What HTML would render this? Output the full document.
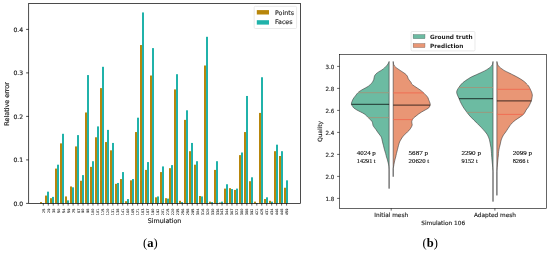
<!DOCTYPE html>
<html><head><meta charset="utf-8"><title>Figure</title>
<style>html,body{margin:0;padding:0;background:#fff;width:550px;height:253px;overflow:hidden}svg{display:block}</style>
</head><body>
<svg width="550" height="253" viewBox="0 0 550 253">
<rect width="550" height="253" fill="#fff"/>
<rect x="40" y="202.09" width="2" height="1.30" fill="#b8860b"/>
<rect x="42" y="202.97" width="2" height="0.43" fill="#20b2aa"/>
<rect x="45" y="195.57" width="2" height="7.83" fill="#b8860b"/>
<rect x="47" y="191.66" width="2" height="11.74" fill="#20b2aa"/>
<rect x="50" y="198.18" width="2" height="5.22" fill="#b8860b"/>
<rect x="52" y="196.88" width="2" height="6.52" fill="#20b2aa"/>
<rect x="55" y="168.60" width="2" height="34.80" fill="#b8860b"/>
<rect x="57" y="164.69" width="2" height="38.71" fill="#20b2aa"/>
<rect x="60" y="143.37" width="2" height="60.03" fill="#b8860b"/>
<rect x="62" y="133.80" width="2" height="69.60" fill="#20b2aa"/>
<rect x="65" y="196.44" width="2" height="6.96" fill="#b8860b"/>
<rect x="67" y="200.36" width="2" height="3.04" fill="#20b2aa"/>
<rect x="70" y="186.44" width="2" height="16.96" fill="#b8860b"/>
<rect x="72" y="187.31" width="2" height="16.09" fill="#20b2aa"/>
<rect x="75" y="146.42" width="2" height="56.98" fill="#b8860b"/>
<rect x="77" y="135.11" width="2" height="68.30" fill="#20b2aa"/>
<rect x="80" y="180.78" width="2" height="22.62" fill="#b8860b"/>
<rect x="82" y="175.12" width="2" height="28.28" fill="#20b2aa"/>
<rect x="85" y="112.49" width="2" height="90.91" fill="#b8860b"/>
<rect x="87" y="75.08" width="2" height="128.32" fill="#20b2aa"/>
<rect x="90" y="166.86" width="2" height="36.54" fill="#b8860b"/>
<rect x="92" y="161.21" width="2" height="42.20" fill="#20b2aa"/>
<rect x="95" y="137.28" width="2" height="66.12" fill="#b8860b"/>
<rect x="97" y="126.41" width="2" height="76.99" fill="#20b2aa"/>
<rect x="100" y="88.12" width="2" height="115.28" fill="#b8860b"/>
<rect x="102" y="66.81" width="2" height="136.59" fill="#20b2aa"/>
<rect x="105" y="142.06" width="2" height="61.33" fill="#b8860b"/>
<rect x="107" y="129.88" width="2" height="73.52" fill="#20b2aa"/>
<rect x="110" y="150.33" width="2" height="53.07" fill="#b8860b"/>
<rect x="112" y="142.94" width="2" height="60.47" fill="#20b2aa"/>
<rect x="115" y="183.83" width="2" height="19.57" fill="#b8860b"/>
<rect x="117" y="182.96" width="2" height="20.45" fill="#20b2aa"/>
<rect x="120" y="179.04" width="2" height="24.36" fill="#b8860b"/>
<rect x="122" y="172.08" width="2" height="31.32" fill="#20b2aa"/>
<rect x="125" y="201.22" width="2" height="2.18" fill="#b8860b"/>
<rect x="127" y="199.05" width="2" height="4.35" fill="#20b2aa"/>
<rect x="130" y="180.34" width="2" height="23.05" fill="#b8860b"/>
<rect x="132" y="179.04" width="2" height="24.36" fill="#20b2aa"/>
<rect x="135" y="132.06" width="2" height="71.34" fill="#b8860b"/>
<rect x="137" y="117.70" width="2" height="85.70" fill="#20b2aa"/>
<rect x="140" y="45.06" width="2" height="158.34" fill="#b8860b"/>
<rect x="142" y="12.44" width="2" height="190.97" fill="#20b2aa"/>
<rect x="145" y="169.91" width="2" height="33.49" fill="#b8860b"/>
<rect x="147" y="162.07" width="2" height="41.33" fill="#20b2aa"/>
<rect x="150" y="75.51" width="2" height="127.89" fill="#b8860b"/>
<rect x="152" y="48.11" width="2" height="155.29" fill="#20b2aa"/>
<rect x="155" y="197.31" width="2" height="6.09" fill="#b8860b"/>
<rect x="157" y="196.44" width="2" height="6.96" fill="#20b2aa"/>
<rect x="160" y="172.08" width="2" height="31.32" fill="#b8860b"/>
<rect x="162" y="166.43" width="2" height="36.98" fill="#20b2aa"/>
<rect x="165" y="198.18" width="2" height="5.22" fill="#b8860b"/>
<rect x="167" y="198.62" width="2" height="4.79" fill="#20b2aa"/>
<rect x="169" y="168.17" width="2" height="35.23" fill="#b8860b"/>
<rect x="171" y="165.12" width="2" height="38.28" fill="#20b2aa"/>
<rect x="174" y="89.43" width="2" height="113.97" fill="#b8860b"/>
<rect x="176" y="74.21" width="2" height="129.19" fill="#20b2aa"/>
<rect x="179" y="200.79" width="2" height="2.61" fill="#b8860b"/>
<rect x="181" y="202.09" width="2" height="1.30" fill="#20b2aa"/>
<rect x="184" y="119.88" width="2" height="83.52" fill="#b8860b"/>
<rect x="186" y="110.31" width="2" height="93.09" fill="#20b2aa"/>
<rect x="189" y="151.20" width="2" height="52.20" fill="#b8860b"/>
<rect x="191" y="142.94" width="2" height="60.47" fill="#20b2aa"/>
<rect x="194" y="164.69" width="2" height="38.71" fill="#b8860b"/>
<rect x="196" y="161.21" width="2" height="42.20" fill="#20b2aa"/>
<rect x="199" y="196.00" width="2" height="7.40" fill="#b8860b"/>
<rect x="201" y="196.44" width="2" height="6.96" fill="#20b2aa"/>
<rect x="204" y="65.50" width="2" height="137.90" fill="#b8860b"/>
<rect x="206" y="36.80" width="2" height="166.60" fill="#20b2aa"/>
<rect x="209" y="201.66" width="2" height="1.74" fill="#b8860b"/>
<rect x="211" y="202.09" width="2" height="1.30" fill="#20b2aa"/>
<rect x="214" y="169.91" width="2" height="33.49" fill="#b8860b"/>
<rect x="216" y="161.21" width="2" height="42.20" fill="#20b2aa"/>
<rect x="219" y="202.53" width="2" height="0.87" fill="#b8860b"/>
<rect x="221" y="201.66" width="2" height="1.74" fill="#20b2aa"/>
<rect x="224" y="188.61" width="2" height="14.79" fill="#b8860b"/>
<rect x="226" y="184.26" width="2" height="19.14" fill="#20b2aa"/>
<rect x="229" y="188.18" width="2" height="15.23" fill="#b8860b"/>
<rect x="231" y="189.05" width="2" height="14.36" fill="#20b2aa"/>
<rect x="234" y="189.92" width="2" height="13.48" fill="#b8860b"/>
<rect x="236" y="188.61" width="2" height="14.79" fill="#20b2aa"/>
<rect x="239" y="155.12" width="2" height="48.29" fill="#b8860b"/>
<rect x="241" y="152.50" width="2" height="50.90" fill="#20b2aa"/>
<rect x="244" y="132.06" width="2" height="71.34" fill="#b8860b"/>
<rect x="246" y="95.96" width="2" height="107.44" fill="#20b2aa"/>
<rect x="249" y="181.22" width="2" height="22.18" fill="#b8860b"/>
<rect x="251" y="177.30" width="2" height="26.10" fill="#20b2aa"/>
<rect x="254" y="201.66" width="2" height="1.74" fill="#b8860b"/>
<rect x="256" y="202.97" width="2" height="0.43" fill="#20b2aa"/>
<rect x="259" y="112.92" width="2" height="90.48" fill="#b8860b"/>
<rect x="261" y="77.25" width="2" height="126.15" fill="#20b2aa"/>
<rect x="264" y="199.05" width="2" height="4.35" fill="#b8860b"/>
<rect x="266" y="197.31" width="2" height="6.09" fill="#20b2aa"/>
<rect x="269" y="200.79" width="2" height="2.61" fill="#b8860b"/>
<rect x="271" y="201.66" width="2" height="1.74" fill="#20b2aa"/>
<rect x="274" y="151.20" width="2" height="52.20" fill="#b8860b"/>
<rect x="276" y="144.68" width="2" height="58.73" fill="#20b2aa"/>
<rect x="279" y="155.99" width="2" height="47.41" fill="#b8860b"/>
<rect x="281" y="151.20" width="2" height="52.20" fill="#20b2aa"/>
<rect x="284" y="187.74" width="2" height="15.66" fill="#b8860b"/>
<rect x="286" y="180.34" width="2" height="23.05" fill="#20b2aa"/>
<rect x="28.7" y="3.4" width="271.70" height="200.00" fill="none" stroke="#000" stroke-width="0.7"/>
<line x1="26.10" y1="203.40" x2="28.7" y2="203.40" stroke="#000" stroke-width="0.7"/>
<text x="23.20" y="205.60" style="font-family:'DejaVu Sans',sans-serif;font-size:6.1px" text-anchor="end" fill="#262626" stroke="#262626" stroke-width="0.18">0.0</text>
<line x1="26.10" y1="159.90" x2="28.7" y2="159.90" stroke="#000" stroke-width="0.7"/>
<text x="23.20" y="162.10" style="font-family:'DejaVu Sans',sans-serif;font-size:6.1px" text-anchor="end" fill="#262626" stroke="#262626" stroke-width="0.18">0.1</text>
<line x1="26.10" y1="116.40" x2="28.7" y2="116.40" stroke="#000" stroke-width="0.7"/>
<text x="23.20" y="118.60" style="font-family:'DejaVu Sans',sans-serif;font-size:6.1px" text-anchor="end" fill="#262626" stroke="#262626" stroke-width="0.18">0.2</text>
<line x1="26.10" y1="72.90" x2="28.7" y2="72.90" stroke="#000" stroke-width="0.7"/>
<text x="23.20" y="75.10" style="font-family:'DejaVu Sans',sans-serif;font-size:6.1px" text-anchor="end" fill="#262626" stroke="#262626" stroke-width="0.18">0.3</text>
<line x1="26.10" y1="29.40" x2="28.7" y2="29.40" stroke="#000" stroke-width="0.7"/>
<text x="23.20" y="31.60" style="font-family:'DejaVu Sans',sans-serif;font-size:6.1px" text-anchor="end" fill="#262626" stroke="#262626" stroke-width="0.18">0.4</text>
<line x1="43.30" y1="203.4" x2="43.30" y2="205.60" stroke="#000" stroke-width="0.6"/>
<text transform="translate(44.75,208.70) rotate(-90)" style="font-family:'DejaVu Sans',sans-serif;font-size:3.4px" text-anchor="end" fill="#222" stroke="#222" stroke-width="0.08">25</text>
<line x1="48.27" y1="203.4" x2="48.27" y2="205.60" stroke="#000" stroke-width="0.6"/>
<text transform="translate(49.72,208.70) rotate(-90)" style="font-family:'DejaVu Sans',sans-serif;font-size:3.4px" text-anchor="end" fill="#222" stroke="#222" stroke-width="0.08">29</text>
<line x1="53.23" y1="203.4" x2="53.23" y2="205.60" stroke="#000" stroke-width="0.6"/>
<text transform="translate(54.68,208.70) rotate(-90)" style="font-family:'DejaVu Sans',sans-serif;font-size:3.4px" text-anchor="end" fill="#222" stroke="#222" stroke-width="0.08">38</text>
<line x1="58.19" y1="203.4" x2="58.19" y2="205.60" stroke="#000" stroke-width="0.6"/>
<text transform="translate(59.64,208.70) rotate(-90)" style="font-family:'DejaVu Sans',sans-serif;font-size:3.4px" text-anchor="end" fill="#222" stroke="#222" stroke-width="0.08">50</text>
<line x1="63.16" y1="203.4" x2="63.16" y2="205.60" stroke="#000" stroke-width="0.6"/>
<text transform="translate(64.61,208.70) rotate(-90)" style="font-family:'DejaVu Sans',sans-serif;font-size:3.4px" text-anchor="end" fill="#222" stroke="#222" stroke-width="0.08">54</text>
<line x1="68.12" y1="203.4" x2="68.12" y2="205.60" stroke="#000" stroke-width="0.6"/>
<text transform="translate(69.58,208.70) rotate(-90)" style="font-family:'DejaVu Sans',sans-serif;font-size:3.4px" text-anchor="end" fill="#222" stroke="#222" stroke-width="0.08">59</text>
<line x1="73.09" y1="203.4" x2="73.09" y2="205.60" stroke="#000" stroke-width="0.6"/>
<text transform="translate(74.54,208.70) rotate(-90)" style="font-family:'DejaVu Sans',sans-serif;font-size:3.4px" text-anchor="end" fill="#222" stroke="#222" stroke-width="0.08">75</text>
<line x1="78.05" y1="203.4" x2="78.05" y2="205.60" stroke="#000" stroke-width="0.6"/>
<text transform="translate(79.50,208.70) rotate(-90)" style="font-family:'DejaVu Sans',sans-serif;font-size:3.4px" text-anchor="end" fill="#222" stroke="#222" stroke-width="0.08">87</text>
<line x1="83.02" y1="203.4" x2="83.02" y2="205.60" stroke="#000" stroke-width="0.6"/>
<text transform="translate(84.47,208.70) rotate(-90)" style="font-family:'DejaVu Sans',sans-serif;font-size:3.4px" text-anchor="end" fill="#222" stroke="#222" stroke-width="0.08">90</text>
<line x1="87.98" y1="203.4" x2="87.98" y2="205.60" stroke="#000" stroke-width="0.6"/>
<text transform="translate(89.44,208.70) rotate(-90)" style="font-family:'DejaVu Sans',sans-serif;font-size:3.4px" text-anchor="end" fill="#222" stroke="#222" stroke-width="0.08">98</text>
<line x1="92.95" y1="203.4" x2="92.95" y2="205.60" stroke="#000" stroke-width="0.6"/>
<text transform="translate(94.40,208.70) rotate(-90)" style="font-family:'DejaVu Sans',sans-serif;font-size:3.4px" text-anchor="end" fill="#222" stroke="#222" stroke-width="0.08">100</text>
<line x1="97.91" y1="203.4" x2="97.91" y2="205.60" stroke="#000" stroke-width="0.6"/>
<text transform="translate(99.36,208.70) rotate(-90)" style="font-family:'DejaVu Sans',sans-serif;font-size:3.4px" text-anchor="end" fill="#222" stroke="#222" stroke-width="0.08">101</text>
<line x1="102.88" y1="203.4" x2="102.88" y2="205.60" stroke="#000" stroke-width="0.6"/>
<text transform="translate(104.33,208.70) rotate(-90)" style="font-family:'DejaVu Sans',sans-serif;font-size:3.4px" text-anchor="end" fill="#222" stroke="#222" stroke-width="0.08">115</text>
<line x1="107.84" y1="203.4" x2="107.84" y2="205.60" stroke="#000" stroke-width="0.6"/>
<text transform="translate(109.30,208.70) rotate(-90)" style="font-family:'DejaVu Sans',sans-serif;font-size:3.4px" text-anchor="end" fill="#222" stroke="#222" stroke-width="0.08">120</text>
<line x1="112.81" y1="203.4" x2="112.81" y2="205.60" stroke="#000" stroke-width="0.6"/>
<text transform="translate(114.26,208.70) rotate(-90)" style="font-family:'DejaVu Sans',sans-serif;font-size:3.4px" text-anchor="end" fill="#222" stroke="#222" stroke-width="0.08">131</text>
<line x1="117.77" y1="203.4" x2="117.77" y2="205.60" stroke="#000" stroke-width="0.6"/>
<text transform="translate(119.22,208.70) rotate(-90)" style="font-family:'DejaVu Sans',sans-serif;font-size:3.4px" text-anchor="end" fill="#222" stroke="#222" stroke-width="0.08">138</text>
<line x1="122.74" y1="203.4" x2="122.74" y2="205.60" stroke="#000" stroke-width="0.6"/>
<text transform="translate(124.19,208.70) rotate(-90)" style="font-family:'DejaVu Sans',sans-serif;font-size:3.4px" text-anchor="end" fill="#222" stroke="#222" stroke-width="0.08">141</text>
<line x1="127.70" y1="203.4" x2="127.70" y2="205.60" stroke="#000" stroke-width="0.6"/>
<text transform="translate(129.16,208.70) rotate(-90)" style="font-family:'DejaVu Sans',sans-serif;font-size:3.4px" text-anchor="end" fill="#222" stroke="#222" stroke-width="0.08">160</text>
<line x1="132.67" y1="203.4" x2="132.67" y2="205.60" stroke="#000" stroke-width="0.6"/>
<text transform="translate(134.12,208.70) rotate(-90)" style="font-family:'DejaVu Sans',sans-serif;font-size:3.4px" text-anchor="end" fill="#222" stroke="#222" stroke-width="0.08">165</text>
<line x1="137.63" y1="203.4" x2="137.63" y2="205.60" stroke="#000" stroke-width="0.6"/>
<text transform="translate(139.08,208.70) rotate(-90)" style="font-family:'DejaVu Sans',sans-serif;font-size:3.4px" text-anchor="end" fill="#222" stroke="#222" stroke-width="0.08">171</text>
<line x1="142.60" y1="203.4" x2="142.60" y2="205.60" stroke="#000" stroke-width="0.6"/>
<text transform="translate(144.05,208.70) rotate(-90)" style="font-family:'DejaVu Sans',sans-serif;font-size:3.4px" text-anchor="end" fill="#222" stroke="#222" stroke-width="0.08">183</text>
<line x1="147.56" y1="203.4" x2="147.56" y2="205.60" stroke="#000" stroke-width="0.6"/>
<text transform="translate(149.01,208.70) rotate(-90)" style="font-family:'DejaVu Sans',sans-serif;font-size:3.4px" text-anchor="end" fill="#222" stroke="#222" stroke-width="0.08">187</text>
<line x1="152.53" y1="203.4" x2="152.53" y2="205.60" stroke="#000" stroke-width="0.6"/>
<text transform="translate(153.98,208.70) rotate(-90)" style="font-family:'DejaVu Sans',sans-serif;font-size:3.4px" text-anchor="end" fill="#222" stroke="#222" stroke-width="0.08">190</text>
<line x1="157.50" y1="203.4" x2="157.50" y2="205.60" stroke="#000" stroke-width="0.6"/>
<text transform="translate(158.94,208.70) rotate(-90)" style="font-family:'DejaVu Sans',sans-serif;font-size:3.4px" text-anchor="end" fill="#222" stroke="#222" stroke-width="0.08">192</text>
<line x1="162.46" y1="203.4" x2="162.46" y2="205.60" stroke="#000" stroke-width="0.6"/>
<text transform="translate(163.91,208.70) rotate(-90)" style="font-family:'DejaVu Sans',sans-serif;font-size:3.4px" text-anchor="end" fill="#222" stroke="#222" stroke-width="0.08">201</text>
<line x1="167.43" y1="203.4" x2="167.43" y2="205.60" stroke="#000" stroke-width="0.6"/>
<text transform="translate(168.88,208.70) rotate(-90)" style="font-family:'DejaVu Sans',sans-serif;font-size:3.4px" text-anchor="end" fill="#222" stroke="#222" stroke-width="0.08">215</text>
<line x1="172.39" y1="203.4" x2="172.39" y2="205.60" stroke="#000" stroke-width="0.6"/>
<text transform="translate(173.84,208.70) rotate(-90)" style="font-family:'DejaVu Sans',sans-serif;font-size:3.4px" text-anchor="end" fill="#222" stroke="#222" stroke-width="0.08">220</text>
<line x1="177.36" y1="203.4" x2="177.36" y2="205.60" stroke="#000" stroke-width="0.6"/>
<text transform="translate(178.81,208.70) rotate(-90)" style="font-family:'DejaVu Sans',sans-serif;font-size:3.4px" text-anchor="end" fill="#222" stroke="#222" stroke-width="0.08">235</text>
<line x1="182.32" y1="203.4" x2="182.32" y2="205.60" stroke="#000" stroke-width="0.6"/>
<text transform="translate(183.77,208.70) rotate(-90)" style="font-family:'DejaVu Sans',sans-serif;font-size:3.4px" text-anchor="end" fill="#222" stroke="#222" stroke-width="0.08">256</text>
<line x1="187.28" y1="203.4" x2="187.28" y2="205.60" stroke="#000" stroke-width="0.6"/>
<text transform="translate(188.73,208.70) rotate(-90)" style="font-family:'DejaVu Sans',sans-serif;font-size:3.4px" text-anchor="end" fill="#222" stroke="#222" stroke-width="0.08">258</text>
<line x1="192.25" y1="203.4" x2="192.25" y2="205.60" stroke="#000" stroke-width="0.6"/>
<text transform="translate(193.70,208.70) rotate(-90)" style="font-family:'DejaVu Sans',sans-serif;font-size:3.4px" text-anchor="end" fill="#222" stroke="#222" stroke-width="0.08">295</text>
<line x1="197.21" y1="203.4" x2="197.21" y2="205.60" stroke="#000" stroke-width="0.6"/>
<text transform="translate(198.66,208.70) rotate(-90)" style="font-family:'DejaVu Sans',sans-serif;font-size:3.4px" text-anchor="end" fill="#222" stroke="#222" stroke-width="0.08">304</text>
<line x1="202.18" y1="203.4" x2="202.18" y2="205.60" stroke="#000" stroke-width="0.6"/>
<text transform="translate(203.63,208.70) rotate(-90)" style="font-family:'DejaVu Sans',sans-serif;font-size:3.4px" text-anchor="end" fill="#222" stroke="#222" stroke-width="0.08">316</text>
<line x1="207.14" y1="203.4" x2="207.14" y2="205.60" stroke="#000" stroke-width="0.6"/>
<text transform="translate(208.59,208.70) rotate(-90)" style="font-family:'DejaVu Sans',sans-serif;font-size:3.4px" text-anchor="end" fill="#222" stroke="#222" stroke-width="0.08">320</text>
<line x1="212.11" y1="203.4" x2="212.11" y2="205.60" stroke="#000" stroke-width="0.6"/>
<text transform="translate(213.56,208.70) rotate(-90)" style="font-family:'DejaVu Sans',sans-serif;font-size:3.4px" text-anchor="end" fill="#222" stroke="#222" stroke-width="0.08">330</text>
<line x1="217.07" y1="203.4" x2="217.07" y2="205.60" stroke="#000" stroke-width="0.6"/>
<text transform="translate(218.52,208.70) rotate(-90)" style="font-family:'DejaVu Sans',sans-serif;font-size:3.4px" text-anchor="end" fill="#222" stroke="#222" stroke-width="0.08">336</text>
<line x1="222.04" y1="203.4" x2="222.04" y2="205.60" stroke="#000" stroke-width="0.6"/>
<text transform="translate(223.49,208.70) rotate(-90)" style="font-family:'DejaVu Sans',sans-serif;font-size:3.4px" text-anchor="end" fill="#222" stroke="#222" stroke-width="0.08">343</text>
<line x1="227.00" y1="203.4" x2="227.00" y2="205.60" stroke="#000" stroke-width="0.6"/>
<text transform="translate(228.45,208.70) rotate(-90)" style="font-family:'DejaVu Sans',sans-serif;font-size:3.4px" text-anchor="end" fill="#222" stroke="#222" stroke-width="0.08">344</text>
<line x1="231.97" y1="203.4" x2="231.97" y2="205.60" stroke="#000" stroke-width="0.6"/>
<text transform="translate(233.42,208.70) rotate(-90)" style="font-family:'DejaVu Sans',sans-serif;font-size:3.4px" text-anchor="end" fill="#222" stroke="#222" stroke-width="0.08">367</text>
<line x1="236.94" y1="203.4" x2="236.94" y2="205.60" stroke="#000" stroke-width="0.6"/>
<text transform="translate(238.38,208.70) rotate(-90)" style="font-family:'DejaVu Sans',sans-serif;font-size:3.4px" text-anchor="end" fill="#222" stroke="#222" stroke-width="0.08">372</text>
<line x1="241.90" y1="203.4" x2="241.90" y2="205.60" stroke="#000" stroke-width="0.6"/>
<text transform="translate(243.35,208.70) rotate(-90)" style="font-family:'DejaVu Sans',sans-serif;font-size:3.4px" text-anchor="end" fill="#222" stroke="#222" stroke-width="0.08">380</text>
<line x1="246.87" y1="203.4" x2="246.87" y2="205.60" stroke="#000" stroke-width="0.6"/>
<text transform="translate(248.31,208.70) rotate(-90)" style="font-family:'DejaVu Sans',sans-serif;font-size:3.4px" text-anchor="end" fill="#222" stroke="#222" stroke-width="0.08">388</text>
<line x1="251.83" y1="203.4" x2="251.83" y2="205.60" stroke="#000" stroke-width="0.6"/>
<text transform="translate(253.28,208.70) rotate(-90)" style="font-family:'DejaVu Sans',sans-serif;font-size:3.4px" text-anchor="end" fill="#222" stroke="#222" stroke-width="0.08">392</text>
<line x1="256.80" y1="203.4" x2="256.80" y2="205.60" stroke="#000" stroke-width="0.6"/>
<text transform="translate(258.25,208.70) rotate(-90)" style="font-family:'DejaVu Sans',sans-serif;font-size:3.4px" text-anchor="end" fill="#222" stroke="#222" stroke-width="0.08">421</text>
<line x1="261.76" y1="203.4" x2="261.76" y2="205.60" stroke="#000" stroke-width="0.6"/>
<text transform="translate(263.21,208.70) rotate(-90)" style="font-family:'DejaVu Sans',sans-serif;font-size:3.4px" text-anchor="end" fill="#222" stroke="#222" stroke-width="0.08">425</text>
<line x1="266.72" y1="203.4" x2="266.72" y2="205.60" stroke="#000" stroke-width="0.6"/>
<text transform="translate(268.17,208.70) rotate(-90)" style="font-family:'DejaVu Sans',sans-serif;font-size:3.4px" text-anchor="end" fill="#222" stroke="#222" stroke-width="0.08">431</text>
<line x1="271.69" y1="203.4" x2="271.69" y2="205.60" stroke="#000" stroke-width="0.6"/>
<text transform="translate(273.14,208.70) rotate(-90)" style="font-family:'DejaVu Sans',sans-serif;font-size:3.4px" text-anchor="end" fill="#222" stroke="#222" stroke-width="0.08">434</text>
<line x1="276.65" y1="203.4" x2="276.65" y2="205.60" stroke="#000" stroke-width="0.6"/>
<text transform="translate(278.10,208.70) rotate(-90)" style="font-family:'DejaVu Sans',sans-serif;font-size:3.4px" text-anchor="end" fill="#222" stroke="#222" stroke-width="0.08">446</text>
<line x1="281.62" y1="203.4" x2="281.62" y2="205.60" stroke="#000" stroke-width="0.6"/>
<text transform="translate(283.07,208.70) rotate(-90)" style="font-family:'DejaVu Sans',sans-serif;font-size:3.4px" text-anchor="end" fill="#222" stroke="#222" stroke-width="0.08">448</text>
<line x1="286.58" y1="203.4" x2="286.58" y2="205.60" stroke="#000" stroke-width="0.6"/>
<text transform="translate(288.03,208.70) rotate(-90)" style="font-family:'DejaVu Sans',sans-serif;font-size:3.4px" text-anchor="end" fill="#222" stroke="#222" stroke-width="0.08">459</text>
<text x="164.55" y="223.3" style="font-family:'DejaVu Sans',sans-serif;font-size:6.3px" text-anchor="middle" fill="#262626" stroke="#262626" stroke-width="0.18">Simulation</text>
<text transform="translate(8.8,103.85) rotate(-90)" style="font-family:'DejaVu Sans',sans-serif;font-size:6.45px" text-anchor="middle" fill="#262626" stroke="#262626" stroke-width="0.18">Relative error</text>
<rect x="254.2" y="6.3" width="42.4" height="22.2" rx="1.2" fill="#fff" fill-opacity="0.8" stroke="#dcdcdc" stroke-width="0.6"/>
<rect x="256.8" y="10.1" width="12.2" height="4.4" fill="#b8860b"/>
<rect x="256.8" y="20.2" width="12.2" height="4.4" fill="#20b2aa"/>
<text x="275.0" y="14.5" style="font-family:'DejaVu Sans',sans-serif;font-size:6.3px" fill="#262626" stroke="#262626" stroke-width="0.15">Points</text>
<text x="275.0" y="24.4" style="font-family:'DejaVu Sans',sans-serif;font-size:6.3px" fill="#262626" stroke="#262626" stroke-width="0.15">Faces</text>
<line x1="337.10" y1="198.40" x2="339.5" y2="198.40" stroke="#000" stroke-width="0.6"/>
<text x="334.30" y="200.50" style="font-family:'DejaVu Sans',sans-serif;font-size:5.6px" text-anchor="end" fill="#262626" stroke="#262626" stroke-width="0.15">1.8</text>
<line x1="337.10" y1="176.40" x2="339.5" y2="176.40" stroke="#000" stroke-width="0.6"/>
<text x="334.30" y="178.50" style="font-family:'DejaVu Sans',sans-serif;font-size:5.6px" text-anchor="end" fill="#262626" stroke="#262626" stroke-width="0.15">2.0</text>
<line x1="337.10" y1="154.40" x2="339.5" y2="154.40" stroke="#000" stroke-width="0.6"/>
<text x="334.30" y="156.50" style="font-family:'DejaVu Sans',sans-serif;font-size:5.6px" text-anchor="end" fill="#262626" stroke="#262626" stroke-width="0.15">2.2</text>
<line x1="337.10" y1="132.40" x2="339.5" y2="132.40" stroke="#000" stroke-width="0.6"/>
<text x="334.30" y="134.50" style="font-family:'DejaVu Sans',sans-serif;font-size:5.6px" text-anchor="end" fill="#262626" stroke="#262626" stroke-width="0.15">2.4</text>
<line x1="337.10" y1="110.40" x2="339.5" y2="110.40" stroke="#000" stroke-width="0.6"/>
<text x="334.30" y="112.50" style="font-family:'DejaVu Sans',sans-serif;font-size:5.6px" text-anchor="end" fill="#262626" stroke="#262626" stroke-width="0.15">2.6</text>
<line x1="337.10" y1="88.40" x2="339.5" y2="88.40" stroke="#000" stroke-width="0.6"/>
<text x="334.30" y="90.50" style="font-family:'DejaVu Sans',sans-serif;font-size:5.6px" text-anchor="end" fill="#262626" stroke="#262626" stroke-width="0.15">2.8</text>
<line x1="337.10" y1="66.40" x2="339.5" y2="66.40" stroke="#000" stroke-width="0.6"/>
<text x="334.30" y="68.50" style="font-family:'DejaVu Sans',sans-serif;font-size:5.6px" text-anchor="end" fill="#262626" stroke="#262626" stroke-width="0.15">3.0</text>
<path d="M389.10,61.50 C388.92,61.92 388.43,63.27 388.00,64.00 C387.57,64.73 387.08,65.25 386.50,65.90 C385.92,66.55 385.25,67.23 384.50,67.90 C383.75,68.57 382.98,69.23 382.00,69.90 C381.02,70.57 379.58,71.25 378.60,71.90 C377.62,72.55 376.77,73.15 376.10,73.80 C375.43,74.45 374.93,75.13 374.60,75.80 C374.27,76.47 374.25,77.13 374.10,77.80 C373.95,78.47 373.93,79.15 373.70,79.80 C373.47,80.45 373.12,81.05 372.70,81.70 C372.28,82.35 371.87,82.98 371.20,83.70 C370.53,84.42 369.68,85.28 368.70,86.00 C367.72,86.72 366.45,87.35 365.30,88.00 C364.15,88.65 362.88,89.25 361.80,89.90 C360.72,90.55 359.62,91.23 358.80,91.90 C357.98,92.57 357.47,93.23 356.90,93.90 C356.33,94.57 355.90,95.25 355.40,95.90 C354.90,96.55 354.35,97.15 353.90,97.80 C353.45,98.45 353.03,99.13 352.70,99.80 C352.37,100.47 352.12,101.05 351.90,101.80 C351.68,102.55 351.23,103.48 351.40,104.30 C351.57,105.12 352.48,106.08 352.90,106.70 C353.32,107.32 353.23,107.45 353.90,108.00 C354.57,108.55 355.75,109.33 356.90,110.00 C358.05,110.67 359.57,111.35 360.80,112.00 C362.03,112.65 363.32,113.25 364.30,113.90 C365.28,114.55 366.05,115.28 366.70,115.90 C367.35,116.52 367.53,116.93 368.20,117.60 C368.87,118.27 370.03,119.20 370.70,119.90 C371.37,120.60 371.87,121.15 372.20,121.80 C372.53,122.45 372.53,123.13 372.70,123.80 C372.87,124.47 372.88,125.13 373.20,125.80 C373.52,126.47 374.12,127.15 374.60,127.80 C375.08,128.45 375.60,129.00 376.10,129.70 C376.60,130.40 377.10,131.28 377.60,132.00 C378.10,132.72 378.60,133.33 379.10,134.00 C379.60,134.67 380.18,135.35 380.60,136.00 C381.02,136.65 381.28,136.92 381.60,137.90 C381.92,138.88 382.18,140.58 382.50,141.90 C382.82,143.22 383.17,144.48 383.50,145.80 C383.83,147.12 384.13,148.48 384.50,149.80 C384.87,151.12 385.37,152.50 385.70,153.70 C386.03,154.90 386.25,156.12 386.50,157.00 C386.75,157.88 386.92,158.02 387.20,159.00 C387.48,159.98 387.95,161.90 388.20,162.90 C388.45,163.90 388.57,164.15 388.70,165.00 C388.83,165.85 388.93,167.17 389.00,168.00 C389.07,168.83 389.08,169.67 389.10,170.00 L389.10,188.60 L389.10,61.50 Z" fill="rgb(108,187,162)" stroke="#454545" stroke-width="0.65" stroke-linejoin="round"/>
<line x1="358.04" y1="92.70" x2="389.10" y2="92.70" stroke="#9e967a" stroke-width="0.9"/>
<line x1="368.20" y1="117.60" x2="389.10" y2="117.60" stroke="#9e967a" stroke-width="0.9"/>
<line x1="351.40" y1="104.30" x2="389.10" y2="104.30" stroke="rgba(0,0,0,0.58)" stroke-width="1.25"/>
<path d="M393.20,61.50 C393.30,62.07 393.43,64.00 393.80,64.90 C394.17,65.80 394.72,66.23 395.40,66.90 C396.08,67.57 396.98,68.23 397.90,68.90 C398.82,69.57 399.92,70.25 400.90,70.90 C401.88,71.55 402.90,72.15 403.80,72.80 C404.70,73.45 405.67,74.13 406.30,74.80 C406.93,75.47 407.27,76.13 407.60,76.80 C407.93,77.47 407.93,78.13 408.30,78.80 C408.67,79.47 409.32,80.15 409.80,80.80 C410.28,81.45 410.88,82.17 411.20,82.70 C411.52,83.23 411.20,83.45 411.70,84.00 C412.20,84.55 413.28,85.33 414.20,86.00 C415.12,86.67 416.22,87.35 417.20,88.00 C418.18,88.65 419.20,89.25 420.10,89.90 C421.00,90.55 421.92,91.32 422.60,91.90 C423.28,92.48 423.53,92.73 424.20,93.40 C424.87,94.07 425.97,95.17 426.60,95.90 C427.23,96.63 427.65,97.15 428.00,97.80 C428.35,98.45 428.45,99.13 428.70,99.80 C428.95,100.47 429.23,100.98 429.50,101.80 C429.77,102.62 430.35,103.80 430.30,104.70 C430.25,105.60 429.58,106.58 429.20,107.20 C428.82,107.82 428.68,107.93 428.00,108.40 C427.32,108.87 426.17,109.40 425.10,110.00 C424.03,110.60 422.67,111.35 421.60,112.00 C420.53,112.65 419.60,113.25 418.70,113.90 C417.80,114.55 417.03,115.23 416.20,115.90 C415.37,116.57 414.32,117.28 413.70,117.90 C413.08,118.52 412.83,118.95 412.50,119.60 C412.17,120.25 411.75,120.93 411.70,121.80 C411.65,122.67 412.23,123.97 412.20,124.80 C412.17,125.63 411.82,126.13 411.50,126.80 C411.18,127.47 410.75,128.15 410.30,128.80 C409.85,129.45 409.30,130.17 408.80,130.70 C408.30,131.23 407.88,131.45 407.30,132.00 C406.72,132.55 405.97,133.33 405.30,134.00 C404.63,134.67 403.87,135.35 403.30,136.00 C402.73,136.65 402.33,137.25 401.90,137.90 C401.47,138.55 401.08,139.23 400.70,139.90 C400.32,140.57 399.98,140.92 399.60,141.90 C399.22,142.88 398.77,144.48 398.40,145.80 C398.03,147.12 397.73,148.48 397.40,149.80 C397.07,151.12 396.68,152.50 396.40,153.70 C396.12,154.90 395.92,156.12 395.70,157.00 C395.48,157.88 395.35,158.00 395.10,159.00 C394.85,160.00 394.43,161.83 394.20,163.00 C393.97,164.17 393.85,165.17 393.70,166.00 C393.55,166.83 393.38,167.50 393.30,168.00 C393.22,168.50 393.22,168.83 393.20,169.00 L393.20,176.70 L393.20,61.50 Z" fill="rgb(233,150,117)" stroke="#454545" stroke-width="0.65" stroke-linejoin="round"/>
<line x1="393.20" y1="92.90" x2="423.67" y2="92.90" stroke="#f06a50" stroke-width="0.9"/>
<line x1="393.20" y1="119.60" x2="412.50" y2="119.60" stroke="#f06a50" stroke-width="0.9"/>
<line x1="393.20" y1="105.20" x2="430.08" y2="105.20" stroke="rgba(0,0,0,0.58)" stroke-width="1.25"/>
<path d="M493.00,61.50 C492.88,62.07 492.72,64.00 492.30,64.90 C491.88,65.80 491.22,66.23 490.50,66.90 C489.78,67.57 488.98,68.23 488.00,68.90 C487.02,69.57 485.83,70.25 484.60,70.90 C483.37,71.55 482.00,72.15 480.60,72.80 C479.20,73.45 477.68,74.13 476.20,74.80 C474.72,75.47 473.02,76.13 471.70,76.80 C470.38,77.47 469.37,78.13 468.30,78.80 C467.23,79.47 466.22,80.15 465.30,80.80 C464.38,81.45 463.58,82.00 462.80,82.70 C462.02,83.40 461.27,84.20 460.60,85.00 C459.93,85.80 459.35,86.68 458.80,87.50 C458.25,88.32 457.65,89.17 457.30,89.90 C456.95,90.63 456.75,91.23 456.70,91.90 C456.65,92.57 456.82,93.23 457.00,93.90 C457.18,94.57 457.47,95.12 457.80,95.90 C458.13,96.68 458.57,97.62 459.00,98.60 C459.43,99.58 459.92,100.77 460.40,101.80 C460.88,102.83 461.33,103.77 461.90,104.80 C462.47,105.83 462.95,106.73 463.80,108.00 C464.65,109.27 466.00,111.08 467.00,112.40 C468.00,113.72 468.68,114.65 469.80,115.90 C470.92,117.15 472.38,118.58 473.70,119.90 C475.02,121.22 476.38,122.48 477.70,123.80 C479.02,125.12 480.37,126.48 481.60,127.80 C482.83,129.12 484.22,130.67 485.10,131.70 C485.98,132.73 486.42,133.28 486.90,134.00 C487.38,134.72 487.57,135.02 488.00,136.00 C488.43,136.98 489.12,138.58 489.50,139.90 C489.88,141.22 490.05,142.58 490.30,143.90 C490.55,145.22 490.82,146.48 491.00,147.80 C491.18,149.12 491.30,150.60 491.40,151.80 C491.50,153.00 491.50,153.63 491.60,155.00 C491.70,156.37 491.85,158.33 492.00,160.00 C492.15,161.67 492.35,163.33 492.50,165.00 C492.65,166.67 492.82,168.83 492.90,170.00 C492.98,171.17 492.98,171.67 493.00,172.00 L493.00,201.60 L493.00,61.50 Z" fill="rgb(108,187,162)" stroke="#454545" stroke-width="0.65" stroke-linejoin="round"/>
<line x1="458.80" y1="87.50" x2="493.00" y2="87.50" stroke="#9e967a" stroke-width="0.9"/>
<line x1="467.00" y1="112.40" x2="493.00" y2="112.40" stroke="#9e967a" stroke-width="0.9"/>
<line x1="459.00" y1="98.60" x2="493.00" y2="98.60" stroke="rgba(0,0,0,0.58)" stroke-width="1.25"/>
<path d="M496.90,61.50 C497.05,62.07 497.38,64.00 497.80,64.90 C498.22,65.80 498.72,66.23 499.40,66.90 C500.08,67.57 500.98,68.23 501.90,68.90 C502.82,69.57 503.75,70.25 504.90,70.90 C506.05,71.55 507.48,72.15 508.80,72.80 C510.12,73.45 511.48,74.13 512.80,74.80 C514.12,75.47 515.47,76.13 516.70,76.80 C517.93,77.47 519.12,78.13 520.20,78.80 C521.28,79.47 522.30,80.15 523.20,80.80 C524.10,81.45 525.03,82.17 525.60,82.70 C526.17,83.23 526.10,83.45 526.60,84.00 C527.10,84.55 528.02,85.18 528.60,86.00 C529.18,86.82 529.62,87.92 530.10,88.90 C530.58,89.88 531.13,90.90 531.50,91.90 C531.87,92.90 532.22,93.92 532.30,94.90 C532.38,95.88 532.15,96.82 532.00,97.80 C531.85,98.78 531.72,99.80 531.40,100.80 C531.08,101.80 530.57,102.82 530.10,103.80 C529.63,104.78 529.02,106.00 528.60,106.70 C528.18,107.40 528.02,107.45 527.60,108.00 C527.18,108.55 526.52,109.33 526.10,110.00 C525.68,110.67 525.55,111.27 525.10,112.00 C524.65,112.73 524.22,113.58 523.40,114.40 C522.58,115.22 521.48,115.98 520.20,116.90 C518.92,117.82 517.02,118.92 515.70,119.90 C514.38,120.88 513.28,121.82 512.30,122.80 C511.32,123.78 510.55,124.80 509.80,125.80 C509.05,126.80 508.48,127.77 507.80,128.80 C507.12,129.83 506.30,131.13 505.70,132.00 C505.10,132.87 504.67,133.33 504.20,134.00 C503.73,134.67 503.40,135.02 502.90,136.00 C502.40,136.98 501.63,138.58 501.20,139.90 C500.77,141.22 500.62,142.58 500.30,143.90 C499.98,145.22 499.58,146.48 499.30,147.80 C499.02,149.12 498.75,150.60 498.60,151.80 C498.45,153.00 498.53,153.63 498.40,155.00 C498.27,156.37 497.97,158.33 497.80,160.00 C497.63,161.67 497.53,163.33 497.40,165.00 C497.27,166.67 497.08,168.83 497.00,170.00 C496.92,171.17 496.92,171.67 496.90,172.00 L496.90,195.40 L496.90,61.50 Z" fill="rgb(233,150,117)" stroke="#454545" stroke-width="0.65" stroke-linejoin="round"/>
<line x1="496.90" y1="89.30" x2="530.29" y2="89.30" stroke="#f06a50" stroke-width="0.9"/>
<line x1="496.90" y1="114.40" x2="523.40" y2="114.40" stroke="#f06a50" stroke-width="0.9"/>
<line x1="496.90" y1="100.80" x2="531.40" y2="100.80" stroke="rgba(0,0,0,0.58)" stroke-width="1.25"/>
<rect x="339.5" y="54.3" width="206.90" height="154.10" fill="none" stroke="#000" stroke-width="0.6"/>
<line x1="391.2" y1="208.4" x2="391.2" y2="210.60" stroke="#000" stroke-width="0.6"/>
<text x="391.2" y="217.1" style="font-family:'DejaVu Sans',sans-serif;font-size:5.8px" text-anchor="middle" fill="#262626" stroke="#262626" stroke-width="0.15">Initial mesh</text>
<line x1="494.9" y1="208.4" x2="494.9" y2="210.60" stroke="#000" stroke-width="0.6"/>
<text x="494.9" y="217.1" style="font-family:'DejaVu Sans',sans-serif;font-size:5.8px" text-anchor="middle" fill="#262626" stroke="#262626" stroke-width="0.15">Adapted mesh</text>
<text x="443.2" y="224.9" style="font-family:'DejaVu Sans',sans-serif;font-size:5.8px" text-anchor="middle" fill="#262626" stroke="#262626" stroke-width="0.15">Simulation 106</text>
<text transform="translate(322.2,131.4) rotate(-90)" style="font-family:'DejaVu Sans',sans-serif;font-size:5.8px" text-anchor="middle" fill="#262626" stroke="#262626" stroke-width="0.15">Quality</text>
<rect x="411.1" y="31.5" width="63.9" height="19.4" rx="1.2" fill="#fff" fill-opacity="0.8" stroke="#dcdcdc" stroke-width="0.6"/>
<rect x="413.1" y="34.5" width="11.9" height="4.2" fill="rgb(108,187,162)" stroke="#4a4a4a" stroke-width="0.3"/>
<rect x="413.1" y="43.5" width="11.9" height="4.1" fill="rgb(233,150,117)" stroke="#4a4a4a" stroke-width="0.3"/>
<text x="430.0" y="38.6" style="font-family:'DejaVu Sans',sans-serif;font-size:5.8px;font-weight:bold" fill="#1a1a1a">Ground truth</text>
<text x="430.0" y="47.6" style="font-family:'DejaVu Sans',sans-serif;font-size:5.8px;font-weight:bold" fill="#1a1a1a">Prediction</text>
<text x="356.8" y="155.2" textLength="19.0" lengthAdjust="spacingAndGlyphs" style="font-family:'Liberation Serif',serif;font-size:6.9px" fill="#111" stroke="#111" stroke-width="0.14">4024 p</text>
<text x="356.8" y="162.9" textLength="18.8" lengthAdjust="spacingAndGlyphs" style="font-family:'Liberation Serif',serif;font-size:6.9px" fill="#111" stroke="#111" stroke-width="0.14">14291 t</text>
<text x="408.6" y="155.2" textLength="19.4" lengthAdjust="spacingAndGlyphs" style="font-family:'Liberation Serif',serif;font-size:6.9px" fill="#111" stroke="#111" stroke-width="0.14">5687 p</text>
<text x="408.6" y="162.9" textLength="20.6" lengthAdjust="spacingAndGlyphs" style="font-family:'Liberation Serif',serif;font-size:6.9px" fill="#111" stroke="#111" stroke-width="0.14">20620 t</text>
<text x="461.4" y="155.2" textLength="19.6" lengthAdjust="spacingAndGlyphs" style="font-family:'Liberation Serif',serif;font-size:6.9px" fill="#111" stroke="#111" stroke-width="0.14">2290 p</text>
<text x="461.4" y="162.9" textLength="16.4" lengthAdjust="spacingAndGlyphs" style="font-family:'Liberation Serif',serif;font-size:6.9px" fill="#111" stroke="#111" stroke-width="0.14">9152 t</text>
<text x="512.7" y="155.2" textLength="19.3" lengthAdjust="spacingAndGlyphs" style="font-family:'Liberation Serif',serif;font-size:6.9px" fill="#111" stroke="#111" stroke-width="0.14">2099 p</text>
<text x="512.7" y="162.9" textLength="16.1" lengthAdjust="spacingAndGlyphs" style="font-family:'Liberation Serif',serif;font-size:6.9px" fill="#111" stroke="#111" stroke-width="0.14">8266 t</text>
<text x="150.3" y="247.0" style="font-family:'Liberation Serif',serif;font-size:12.5px" text-anchor="middle" fill="#000">(<tspan font-weight="bold">a</tspan>)</text>
<text x="430.2" y="247.0" style="font-family:'Liberation Serif',serif;font-size:12.5px" text-anchor="middle" fill="#000">(<tspan font-weight="bold">b</tspan>)</text>
</svg>
</body></html>
